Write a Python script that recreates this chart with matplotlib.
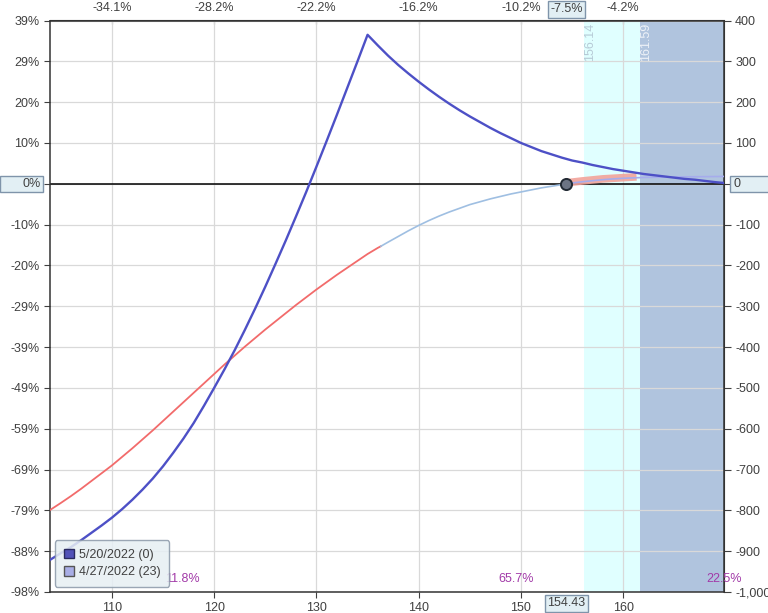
import matplotlib
matplotlib.use('Agg')
import matplotlib.pyplot as plt
from matplotlib.patches import Rectangle, Patch
from matplotlib.transforms import blended_transform_factory

plt.rcParams['font.family'] = ['Liberation Sans', 'DejaVu Sans']

# expiration P&L (5/20/2022)
exp_price = [103.9, 105, 106, 107, 108, 109, 110, 111, 112, 113, 114, 115, 116, 117, 118, 119,
             120, 121, 122, 123, 124, 125, 126, 127, 128, 129, 130, 131, 132, 133, 134, 135,
             135.5, 136, 137, 138, 139, 140, 141, 142, 143, 144, 145, 146, 147, 148, 149, 150,
             151, 152, 153, 154, 155, 156, 157, 158, 159, 160, 161, 162, 163, 164, 165, 166,
             167, 168, 169, 169.85]
exp_pnl = [-922, -905, -890, -873, -855, -837, -818, -797, -774, -749, -722, -692, -659, -624, -586, -544,
           -500, -455, -408, -358, -306, -252, -196, -139, -80, -20, 42, 105, 169, 234, 299, 365,
           352, 339, 314, 291, 270, 250, 231, 213, 196, 180, 165, 151, 137, 124, 112, 100,
           90, 80, 72, 64, 57, 52, 46, 41, 36, 32, 28, 24, 21, 18, 15, 12,
           10, 7, 4, 2]

# T+0 curve (4/27/2022), red part
t0_red_price = [103.9, 105, 106, 107, 108, 109, 110, 111, 112, 113, 114, 115, 116, 117, 118, 119,
                120, 121, 122, 123, 124, 125, 126, 127, 128, 129, 130, 131, 132, 133, 134, 135,
                136, 136.3]
t0_red_pnl = [-800, -782, -765, -747, -728, -709, -690, -669, -648, -626, -604, -581, -558, -535, -512, -489,
              -466, -443, -421, -399, -378, -357, -337, -317, -297, -278, -259, -241, -223, -206, -189, -172,
              -157, -153]
# T+0 curve, light blue part
t0_blue_price = [136.3, 137, 138, 139, 140, 141, 142, 143, 144, 145, 146, 147, 148, 149, 150,
                 151, 152, 153, 154, 154.43]
t0_blue_pnl = [-153, -143, -129, -115, -102, -90, -79, -69, -60, -51, -44, -37, -31, -25, -20,
               -15, -10, -6, -2, 0]
t0_tail_price = [154.43, 155, 156, 157, 158, 159, 160, 161, 162, 164, 166, 169.85]
t0_tail_pnl = [0, 2, 5, 7.5, 10, 12, 13.5, 14.5, 15.5, 16.5, 17, 18]
band_price = [154.3, 156, 158, 160, 161.3]
band_pnl = [2, 7, 12, 15, 17]

spot = 154.43
lo_band, hi_band = 156.14, 161.59

x_ticks = [110, 120, 130, 140, 150, 160]
top_labels = ['-34.1%', '-28.2%', '-22.2%', '-16.2%', '-10.2%', '-4.2%']
y_ticks = [400, 300, 200, 100, 0, -100, -200, -300, -400, -500, -600, -700, -800, -900, -1000]
left_labels = ['39%', '29%', '20%', '10%', '', '-10%', '-20%', '-29%', '-39%', '-49%',
               '-59%', '-69%', '-79%', '-88%', '-98%']
right_labels = ['400', '300', '200', '100', '', '-100', '-200', '-300', '-400', '-500',
                '-600', '-700', '-800', '-900', '-1,000']
prob_x = [116.9, 149.5, 169.85]
prob_labels = ['11.8%', '65.7%', '22.5%']

box_fc = '#e2eff4'
box_ec = '#7f94aa'
txt_c = '#404040'

fig = plt.figure(figsize=(7.68, 6.13), dpi=100)
ax = fig.add_axes([49.5 / 768, 1 - 592 / 613, (724 - 49.5) / 768, (592 - 20.5) / 613])
ax.set_xlim(103.9, 169.85)
ax.set_ylim(-1000, 400)

ax.axvspan(lo_band, hi_band, color='#e0ffff', zorder=0, lw=0)
ax.axvspan(hi_band, 169.85, color='#b0c4de', zorder=0, lw=0)
ax.set_axisbelow(True)
ax.grid(True, color='#d9d9d9', lw=0.9)

ax.axhline(0, color='black', lw=1.1, zorder=2)

ax.plot(band_price, band_pnl, color='#f2a39a', lw=5.5, alpha=0.9, solid_capstyle='butt', zorder=3)
ax.plot(t0_red_price, t0_red_pnl, color='#f26b6b', lw=1.3, zorder=4)
ax.plot(t0_blue_price, t0_blue_pnl, color='#9fbfe2', lw=1.2, zorder=4)
ax.plot(t0_tail_price, t0_tail_pnl, color='#a6acec', lw=1.2, zorder=4)
ax.plot(exp_price, exp_pnl, color='#4d50c6', lw=1.7, zorder=5)
ax.plot([spot], [0], 'o', ms=8, mfc='#6c7484', mec='#222a34', mew=1.4, zorder=6)

ax.text(156.75, 395, f'{lo_band:.2f}', rotation=90, ha='center', va='top', fontsize=9, color='#b6cad6')
ax.text(162.25, 395, f'{hi_band:.2f}', rotation=90, ha='center', va='top', fontsize=9, color='#eef2f8')

for px, lab in zip(prob_x, prob_labels):
    ax.text(px, -967, lab, ha='center', va='center', fontsize=9, color='#a23aa8', zorder=3)

# axes styling
for s in ax.spines.values():
    s.set_color('#333333')
    s.set_linewidth(1.1)
ax.set_xticks(x_ticks)
ax.set_xticklabels([str(v) for v in x_ticks])
ax.set_yticks(y_ticks)
ax.set_yticklabels(left_labels)
ax.tick_params(axis='x', length=4, pad=3, labelsize=9, colors=txt_c)
ax.tick_params(axis='y', length=4, pad=3, labelsize=9, colors=txt_c)

secx = ax.secondary_xaxis('top')
secx.set_xticks(x_ticks)
secx.set_xticklabels(top_labels)
secx.tick_params(length=3, direction='in', pad=5, labelsize=9, colors=txt_c)
secx.spines['top'].set_color('#333333')

secy = ax.secondary_yaxis('right')
secy.set_yticks(y_ticks)
secy.set_yticklabels(right_labels)
secy.tick_params(length=5, pad=3, labelsize=9, colors=txt_c)
secy.spines['right'].set_color('#333333')

# boxed markers for current values
tr = blended_transform_factory(fig.transFigure, ax.transData)
fig.add_artist(Rectangle((0, -19), 43 / 768, 38, transform=tr, fc=box_fc, ec=box_ec, lw=1))
fig.text(41 / 768, 0, '0%', transform=tr, ha='right', va='center', fontsize=9, color=txt_c)
fig.add_artist(Rectangle((730 / 768, -19), 40 / 768, 38, transform=tr, fc=box_fc, ec=box_ec, lw=1))
fig.text(734 / 768, 0, '0', transform=tr, ha='left', va='center', fontsize=9, color=txt_c)

tr2 = blended_transform_factory(ax.transData, fig.transFigure)
box = dict(boxstyle='square,pad=0.2', fc=box_fc, ec=box_ec, lw=1)
fig.text(spot, 1 - 603 / 613, f'{spot:.2f}', transform=tr2, ha='center', va='center',
         fontsize=9, color=txt_c, bbox=box)
fig.text(spot, 1 - 9 / 613, '-7.5%', transform=tr2, ha='center', va='center',
         fontsize=9, color=txt_c, bbox=box)

handles = [Patch(fc='#5252b8', ec='#2a2a60'), Patch(fc='#a9aee6', ec='#555555')]
leg = ax.legend(handles, ['5/20/2022 (0)', '4/27/2022 (23)'], loc='lower left',
                bbox_to_anchor=(0.008, 0.009), borderaxespad=0, fancybox=True, framealpha=0.85,
                facecolor='#e7eff3', edgecolor='#8a98a8', fontsize=9, handlelength=0.8,
                handleheight=0.8, handletextpad=0.4, borderpad=0.7, labelspacing=0.4)
for t in leg.get_texts():
    t.set_color(txt_c)

fig.savefig('out.png', dpi=100)
